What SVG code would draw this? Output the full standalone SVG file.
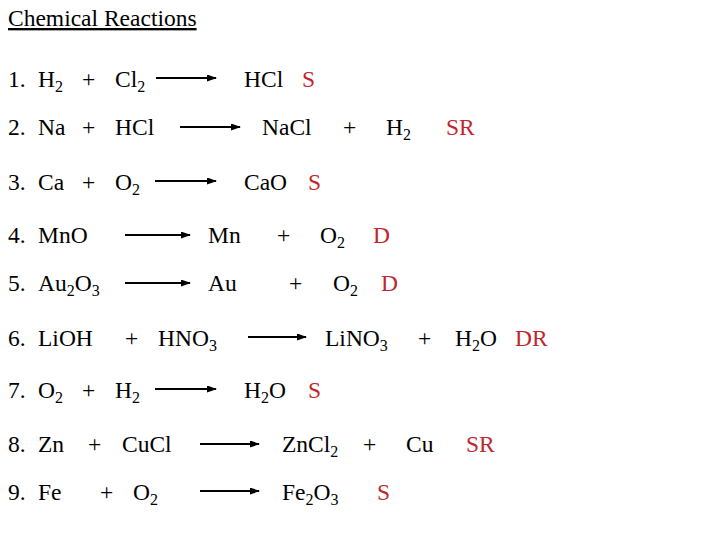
<svg xmlns="http://www.w3.org/2000/svg" width="720" height="540" viewBox="0 0 720 540">
<style>
text{font-family:"Liberation Serif","Times New Roman",serif;font-size:23.5px;fill:#000}
.r{fill:#c0272d}
.s{font-size:16px}
.a{stroke:#000;stroke-width:2;fill:none;marker-end:url(#h)}
</style>
<defs><marker id="h" markerWidth="10" markerHeight="7" refX="9" refY="3.5" orient="auto" markerUnits="userSpaceOnUse"><path d="M0,0L10,3.5L0,7z" fill="#000"/></marker></defs>
<rect width="720" height="540" fill="#fff"/>
<g id="title"><text x="8" y="26" text-decoration="underline">Chemical Reactions</text></g>
<g id="connectors">
<line class="a" x1="156" y1="78" x2="216" y2="78"/>
<line class="a" x1="180" y1="127" x2="240" y2="127"/>
<line class="a" x1="155" y1="181" x2="216" y2="181"/>
<line class="a" x1="125" y1="235" x2="190" y2="235"/>
<line class="a" x1="125" y1="283" x2="190" y2="283"/>
<line class="a" x1="248" y1="337" x2="306" y2="337"/>
<line class="a" x1="155" y1="389" x2="216" y2="389"/>
<line class="a" x1="200" y1="444" x2="259" y2="444"/>
<line class="a" x1="200" y1="491" x2="259" y2="491"/>
</g>
<g id="r1"><text x="8" y="87">1.</text><text x="38" y="87">H<tspan class="s" dy="5">2</tspan></text><text x="82" y="87">+</text><text x="115" y="87">Cl<tspan class="s" dy="5">2</tspan></text><text x="244" y="87">HCl</text><text class="r" x="302" y="87">S</text></g>
<g id="r2"><text x="8" y="135">2.</text><text x="38" y="135">Na</text><text x="82" y="135">+</text><text x="115" y="135">HCl</text><text x="262" y="135">NaCl</text><text x="343" y="135">+</text><text x="386" y="135">H<tspan class="s" dy="5">2</tspan></text><text class="r" x="446" y="135">SR</text></g>
<g id="r3"><text x="8" y="190">3.</text><text x="38" y="190">Ca</text><text x="82" y="190">+</text><text x="115" y="190">O<tspan class="s" dy="5">2</tspan></text><text x="244" y="190">CaO</text><text class="r" x="308" y="190">S</text></g>
<g id="r4"><text x="8" y="243">4.</text><text x="38" y="243">MnO</text><text x="208" y="243">Mn</text><text x="277" y="243">+</text><text x="320" y="243">O<tspan class="s" dy="5">2</tspan></text><text class="r" x="373" y="243">D</text></g>
<g id="r5"><text x="8" y="291">5.</text><text x="38" y="291">Au<tspan class="s" dy="5">2</tspan><tspan dy="-5">O</tspan><tspan class="s" dy="5">3</tspan></text><text x="208" y="291">Au</text><text x="289" y="291">+</text><text x="333" y="291">O<tspan class="s" dy="5">2</tspan></text><text class="r" x="381" y="291">D</text></g>
<g id="r6"><text x="8" y="346">6.</text><text x="38" y="346">LiOH</text><text x="125" y="346">+</text><text x="158" y="346">HNO<tspan class="s" dy="5">3</tspan></text><text x="325" y="346">LiNO<tspan class="s" dy="5">3</tspan></text><text x="418" y="346">+</text><text x="455" y="346">H<tspan class="s" dy="5">2</tspan><tspan dy="-5">O</tspan></text><text class="r" x="515" y="346">DR</text></g>
<g id="r7"><text x="8" y="398">7.</text><text x="38" y="398">O<tspan class="s" dy="5">2</tspan></text><text x="82" y="398">+</text><text x="115" y="398">H<tspan class="s" dy="5">2</tspan></text><text x="244" y="398">H<tspan class="s" dy="5">2</tspan><tspan dy="-5">O</tspan></text><text class="r" x="308" y="398">S</text></g>
<g id="r8"><text x="8" y="452">8.</text><text x="38" y="452">Zn</text><text x="88" y="452">+</text><text x="122" y="452">CuCl</text><text x="282" y="452">ZnCl<tspan class="s" dy="5">2</tspan></text><text x="363" y="452">+</text><text x="406" y="452">Cu</text><text class="r" x="466" y="452">SR</text></g>
<g id="r9"><text x="8" y="500">9.</text><text x="38" y="500">Fe</text><text x="100" y="500">+</text><text x="133" y="500">O<tspan class="s" dy="5">2</tspan></text><text x="282" y="500">Fe<tspan class="s" dy="5">2</tspan><tspan dy="-5">O</tspan><tspan class="s" dy="5">3</tspan></text><text class="r" x="377" y="500">S</text></g>
</svg>
